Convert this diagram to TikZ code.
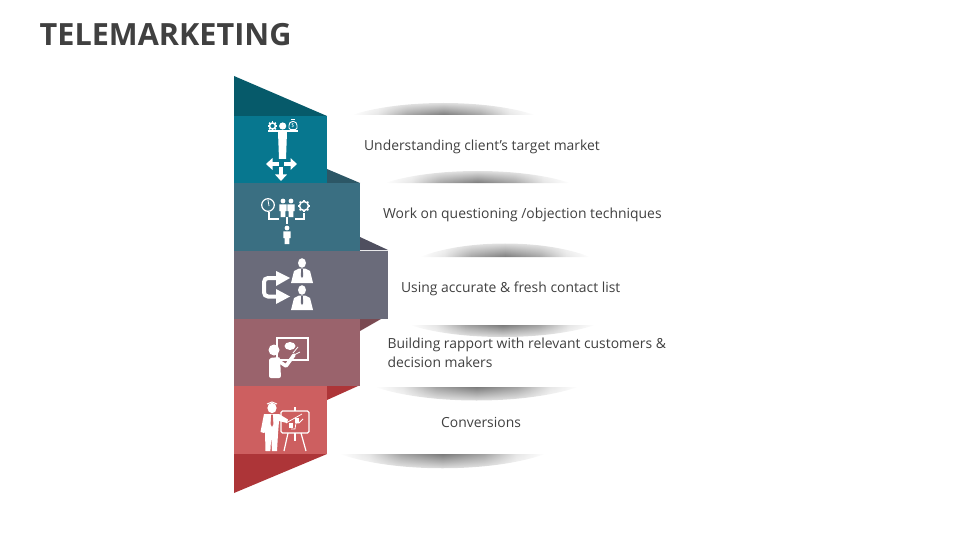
\documentclass[tikz,border=0pt]{standalone}
\usepackage{fontspec}
\setmainfont{Open Sans}
\usetikzlibrary{positioning, arrows.meta, fadings}
\definecolor{bandA}{HTML}{07778F}
\definecolor{bandB}{HTML}{3A6F82}
\definecolor{bandC}{HTML}{6A6B7A}
\definecolor{bandD}{HTML}{9A636C}
\definecolor{bandE}{HTML}{CD5F60}
\definecolor{tailA}{HTML}{065A6A}
\definecolor{tailB}{HTML}{2C5766}
\definecolor{tailC}{HTML}{4F4F5F}
\definecolor{tailD}{HTML}{7A4A52}
\definecolor{tailE}{HTML}{AD3538}
\definecolor{ink}{HTML}{404040}
\pgfdeclarehorizontalshading{shadowfade}{100bp}{color(0bp)=(white); color(25bp)=(white); color(32bp)=(black!10); color(40bp)=(black!36); color(50bp)=(black!52); color(60bp)=(black!36); color(68bp)=(black!10); color(75bp)=(white); color(100bp)=(white)}
\tikzset{
  band/.style={anchor=north west, inner sep=0pt, minimum height=#1},
  label/.style={anchor=west, inner sep=0pt, text=ink, font=\fontsize{13.9}{19}\selectfont, align=left},
  shadowup/.style={shade, shading=shadowfade, path fading=north},
  shadowdown/.style={shade, shading=shadowfade, path fading=south},
  icon/.style={draw=white, line width=1.2pt, fill=none},
  fat/.style={draw=white, line width=3.4pt, -{Triangle[length=6.5pt, width=11.5pt]}}
}
% small standing figure: head and body
\newcommand{\standfig}[1]{
  \begin{scope}[shift={#1}]
    \fill[white] (0,0) circle (2.4);
    \fill[white] (-3.6,3.4) -- (3.6,3.4) -- (3.6,10) -- (2.4,10) -- (2.4,16) -- (0.2,16) -- (0.2,11) -- (-0.2,11) -- (-0.2,16) -- (-2.4,16) -- (-2.4,10) -- (-3.6,10) -- cycle;
  \end{scope}
}
% bust in a suit with a tie
\newcommand{\suitfig}[1]{
  \begin{scope}[shift={#1}]
    \fill[white] (0,0) ellipse (4 and 4.8);
    \fill[white] (-3,5.5) -- (3,5.5) -- (8,8) -- (11,20) -- (-11,20) -- (-8,8) -- cycle;
    \fill[bandC] (-0.8,6) -- (0.8,6) -- (1.2,13) -- (0,15) -- (-1.2,13) -- cycle;
  \end{scope}
}
% gear wheel
\newcommand{\gearfig}[2]{
  \draw[white, line width=1.5pt] #1 circle (#2);
  \foreach \ang in {0,45,...,315}
    \draw[white, line width=1.7pt] #1 ++(\ang:#2) -- ++(\ang:1.6);
}

\begin{document}
\begin{tikzpicture}[x=1pt, y=-1pt]
    \useasboundingbox (0,0) rectangle (960,540);

    % Title
    \node[anchor=west, inner sep=0pt, text=ink, font=\fontsize{30.6}{36}\bfseries] (title) at (39.5,35) {TELEMARKETING};

    % Tails behind the bands
    \fill[tailA] (234,76) -- (327,116) -- (234,116) -- cycle;
    \fill[tailB] (327,169) -- (360,183) -- (327,183) -- cycle;
    \fill[tailC] (360,237) -- (388,250) -- (360,250) -- cycle;
    \fill[tailD] (360,319) -- (381,319) -- (360,331) -- cycle;
    \fill[tailE] (327,386) -- (358,386) -- (327,400) -- cycle;
    \fill[tailE] (234,454) -- (327,454) -- (234,493) -- cycle;

    % Bands
    \node[band=67pt, minimum width=93pt, fill=bandA] (understand) at (234,116) {};
    \node[band=68pt, minimum width=126pt, fill=bandB] (question) at (234,183) {};
    \node[band=68pt, minimum width=154pt, fill=bandC] (contact) at (234,251) {};
    \node[band=67pt, minimum width=126pt, fill=bandD] (rapport) at (234,319) {};
    \node[band=68pt, minimum width=93pt, fill=bandE] (convert) at (234,386) {};

    % Shadows
    \path[shadowup] (352,115) .. controls (400,99) and (487,99) .. (535,115) -- cycle;
    \path[shadowup] (385,183) .. controls (433,167) and (522,167) .. (570,183) -- cycle;
    \path[shadowup] (420,257) .. controls (465,239) and (545,239) .. (590,257) -- cycle;
    \path[shadowdown] (410,325) .. controls (458,341) and (547,341) .. (595,325) -- cycle;
    \path[shadowdown] (375,387) .. controls (428,405) and (525,405) .. (578,387) -- cycle;
    \path[shadowdown] (340,454) .. controls (393,473) and (492,473) .. (545,454) -- cycle;

    % Labels
    \node[label, right=36.5pt of understand, yshift=3pt] (understandtext) {Understanding client’s target market};
    \node[label, right=22.5pt of question, yshift=2pt] (questiontext) {Work on questioning /objection techniques};
    \node[label, right=12.5pt of contact, yshift=-4pt] (contacttext) {Using accurate \& fresh contact list};
    \node[label, right=27pt of rapport] (rapporttext) {Building rapport with relevant customers \&\\decision makers};
    \node[label, right=113.5pt of convert, yshift=-2pt] (converttext) {Conversions};

    % Icon: balance and three ways
    \gearfig{(272.5,126)}{3}
    \fill[white] (282.7,126) circle (3.6);
    \fill[white] (268,130) rectangle (298,132);
    \fill[white] (278,132) -- (287,132) -- (286,159) -- (279,159) -- cycle;
    \draw[white, line width=0.9pt, rounded corners=1.5pt] (289,129.5) -- (289,124) -- (291,121.5) -- (295,121.5) -- (297,124) -- (297,129.5) -- cycle;
    \draw[white, line width=0.9pt] (291,119) -- (295,119);
    \node[inner sep=0pt, text=white, font=\fontsize{5.5}{6}\selectfont] (dollar) at (293,125.5) {\$};
    \draw[fat] (279,164) -- (266,164);
    \draw[fat] (284,164) -- (297,164);
    \draw[fat] (281,167) -- (281,181);

    % Icon: clock, people, gear
    \draw[white, line width=1.2pt] (268,205) circle (6.3);
    \draw[white, line width=0.8pt] (268,200) -- (269,206);
    \draw[icon] (269,212) -- (269,219) -- (279,219);
    \standfig{(283,201)}
    \standfig{(291,201)}
    \gearfig{(304,206)}{4.5}
    \draw[icon] (304,213) -- (304,219) -- (295,219);
    \draw[white, line width=2pt] (287,217) -- (287,224);
    \standfig{(287,228)}

    % Icon: two clients
    \suitfig{(302,263)}
    \suitfig{(302,290)}
    \draw[white, line width=4pt, rounded corners=4pt] (277,278) -- (264,278) -- (264,296.5) -- (277,296.5);
    \fill[white] (276,271) -- (290,278) -- (276,286) -- cycle;
    \fill[white] (276,289) -- (290,296.5) -- (276,304) -- cycle;

    % Icon: man at a board
    \draw[white, line width=1.2pt] (277,338) rectangle (308,360);
    \fill[white] (290,346) ellipse (5.5 and 4);
    \fill[white] (274,350) circle (5.5);
    \fill[white, rounded corners=2pt] (269,378) -- (269,358) -- (280,357) -- (281,378) -- cycle;
    \draw[white, line width=3.6pt, line cap=round, line join=round] (277,360) -- (286,366) -- (294,355);
    \draw[white, line width=0.8pt] (293,353) -- (298,347);
    \draw[white, line width=0.8pt] (294,355) -- (300,352);

    % Icon: presenter with chart
    \draw[white, line width=1.2pt, rounded corners=1.5pt] (281,411) rectangle (309,433);
    \draw[white, line width=1.2pt] (295,407) -- (295,411);
    \draw[white, line width=1.2pt] (288,433) -- (284,451);
    \draw[white, line width=1.2pt] (301,433) -- (306,451);
    \draw[white, line width=1.2pt] (295,433) -- (295,441);
    \fill[white] (272,408) ellipse (4.6 and 5.2);
    \draw[white, line width=1pt] (267,404) -- (272,402) -- (277,404);
    \fill[white] (264,414) -- (279,414) -- (288,419.5) -- (287,423) -- (279,421) -- (278,434) -- (277,451) -- (272,451) -- (271.2,436) -- (270.4,451) -- (265.5,451) -- (265,432) -- (264,433) -- (260.5,432) -- cycle;
    \fill[bandE] (271.2,414.5) -- (272.8,414.5) -- (273.4,424) -- (272,427) -- (270.6,424) -- cycle;
    \fill[white] (289,423) rectangle (293,428);
    \fill[white] (294.5,417.5) rectangle (298.5,422.5);
    \draw[white, line width=0.8pt] (286,423) -- (302,414);
    \draw[white, line width=0.8pt] (291,429) -- (295,429) -- (296,423) -- (299,423) -- (303,419);
\end{tikzpicture}
\end{document}
